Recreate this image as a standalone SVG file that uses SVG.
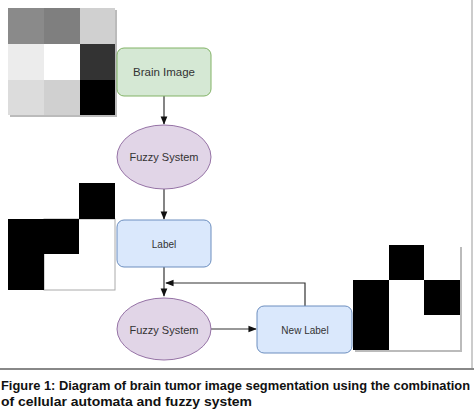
<svg xmlns="http://www.w3.org/2000/svg" width="474" height="413" viewBox="0 0 474 413">
<defs>
<style>
.box{stroke-width:1}
.green{fill:#d5e8d4;stroke:#82b366}
.purple{fill:#e1d5e7;stroke:#9673a6}
.blue{fill:#dae8fc;stroke:#6c8ebf}
.lbl{font-family:"Liberation Sans",Arial,sans-serif;fill:#333;text-anchor:middle;dominant-baseline:central}
.edge{fill:none;stroke:#333;stroke-width:1.2}
.cap{font-family:"Liberation Sans",Arial,sans-serif;font-weight:bold;font-size:12.6px;fill:#111}
.shadow{fill:#bbb}
</style>
<marker id="ah" viewBox="0 0 10 10" refX="9" refY="5" markerWidth="7" markerHeight="7" orient="auto">
<path d="M0,1 L10,5 L0,9 Z" fill="#111"/>
</marker>
</defs>
<rect width="474" height="413" fill="#fff"/>
<line x1="472" y1="0" x2="472" y2="368" stroke="#ccc" stroke-width="2"/>
<line x1="0" y1="369" x2="474" y2="369" stroke="#888" stroke-width="2"/>

<g id="grid-top">
<rect class="shadow" x="10" y="10" width="107" height="107"/>
<rect x="8" y="8" width="36" height="36" fill="#8a8a8a"/>
<rect x="44" y="8" width="36" height="36" fill="#7f7f7f"/>
<rect x="80" y="8" width="35" height="36" fill="#d0d0d0"/>
<rect x="8" y="44" width="36" height="36" fill="#ececec"/>
<rect x="44" y="44" width="36" height="36" fill="#ffffff"/>
<rect x="80" y="44" width="35" height="36" fill="#333333"/>
<rect x="8" y="80" width="36" height="35" fill="#dcdcdc"/>
<rect x="44" y="80" width="36" height="35" fill="#d0d0d0"/>
<rect x="80" y="80" width="35" height="35" fill="#000000"/>
</g>

<g id="grid-left">
<rect x="44" y="219" width="71" height="71" fill="#fff" stroke="#aaa" stroke-width="1"/>
<rect x="79" y="183" width="36" height="36" fill="#000"/>
<rect x="8" y="219" width="71" height="35" fill="#000"/>
<rect x="8" y="254" width="36" height="36" fill="#000"/>
</g>

<g id="grid-right">
<rect class="shadow" x="355" y="247" width="107" height="105"/>
<rect x="353" y="245" width="107" height="105" fill="#fff"/>
<rect x="389" y="245" width="35" height="35" fill="#000"/>
<rect x="353" y="280" width="36" height="70" fill="#000"/>
<rect x="424" y="280" width="36" height="35" fill="#000"/>
</g>

<g id="connectors">
<path class="edge" d="M164,96 V124" marker-end="url(#ah)"/>
<path class="edge" d="M164,189 V219" marker-end="url(#ah)"/>
<path class="edge" d="M164,267 V296" marker-end="url(#ah)"/>
<path class="edge" d="M305,306 V283 H166" marker-end="url(#ah)"/>
<path class="edge" d="M211,329 H256" marker-end="url(#ah)"/>
</g>

<g id="brain-image">
<rect class="box green" x="117" y="48" width="94" height="48" rx="7"/>
<text class="lbl" x="164" y="72" font-size="11.5">Brain Image</text>
</g>
<g id="fuzzy-1">
<ellipse class="box purple" cx="164" cy="157" rx="47" ry="32"/>
<text class="lbl" x="164" y="157" font-size="11">Fuzzy System</text>
</g>
<g id="label">
<rect class="box blue" x="117" y="220" width="94" height="47" rx="7"/>
<text class="lbl" x="164" y="244" font-size="10">Label</text>
</g>
<g id="fuzzy-2">
<ellipse class="box purple" cx="164" cy="329" rx="47" ry="31"/>
<text class="lbl" x="164" y="330" font-size="11">Fuzzy System</text>
</g>
<g id="new-label">
<rect class="box blue" x="257" y="306" width="95" height="47" rx="7"/>
<text class="lbl" x="305" y="330" font-size="10">New Label</text>
</g>

<g id="caption">
<text class="cap" x="1" y="390" textLength="469" lengthAdjust="spacingAndGlyphs">Figure 1: Diagram of brain tumor image segmentation using the combination</text>
<text class="cap" x="1" y="406" textLength="251" lengthAdjust="spacingAndGlyphs">of cellular automata and fuzzy system</text>
</g>
</svg>
